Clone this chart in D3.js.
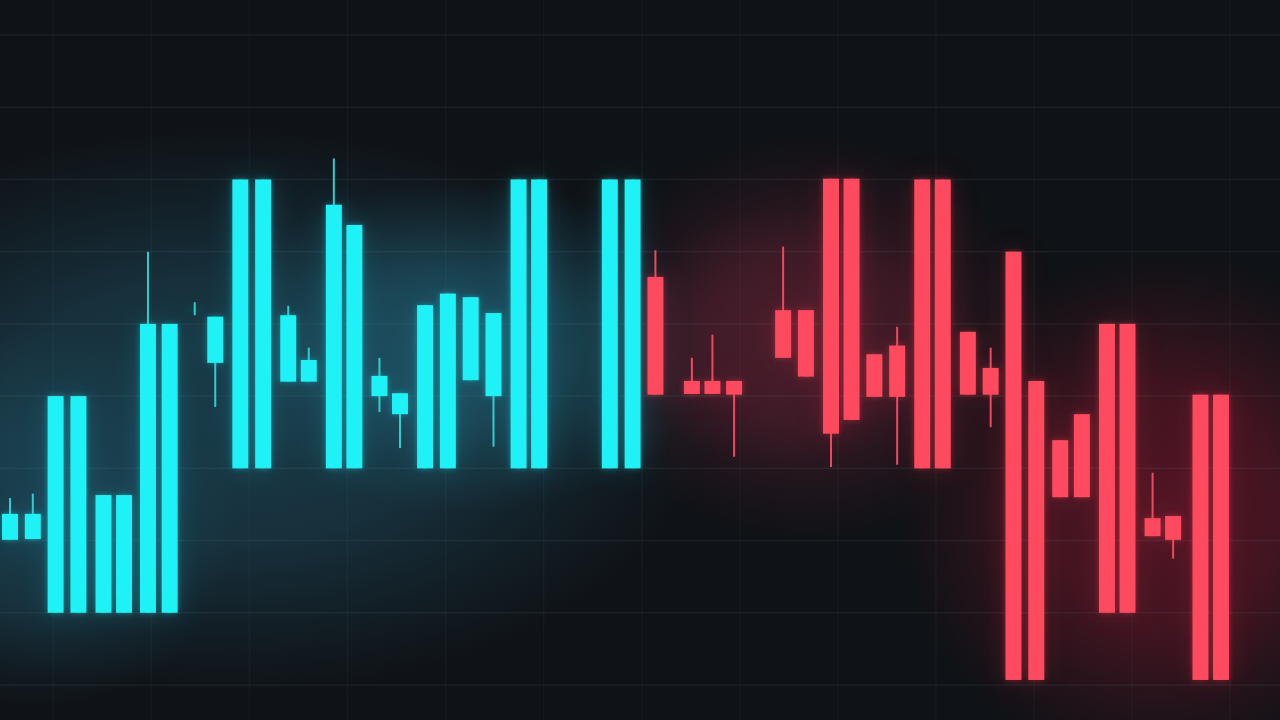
<!DOCTYPE html>
<html>
<head>
<meta charset="utf-8">
<script src="https://cdn.jsdelivr.net/npm/d3@7"></script>
<style>
  html, body { margin: 0; padding: 0; background: #0f1216; }
  svg { display: block; }
</style>
</head>
<body>
<svg id="chart" width="1280" height="720"></svg>
<script>
// ---- data (price units, session index) ----
const cyanSession = [0, 1.0, 2.0, 3.0, 4.1, 5.0, 6.05, 7.0, 8.1, 9.0, 10.1, 11.1, 12.2, 13.1, 14.2, 15.1, 16.2, 17.1, 18.2, 19.2, 20.2, 21.2, 22.3, 23.2, 26.3, 27.3];
const cyanOpen  = [120.1, 120.2, 110, 110, 110, 110, 110, 110, 152, 144.6, 130, 130, 142, 142, 130, 130, 140, 137.5, 130, 130, 142.2, 140, 130, 130, 130, 130];
const cyanClose = [123.7, 123.7, 140, 140, 126.3, 126.3, 150, 150, 152, 151.0, 170, 170, 151.2, 145, 166.5, 163.7, 142.8, 140.4, 152.6, 154.2, 153.7, 151.5, 170, 170, 170, 170];
const cyanHigh  = [125.9, 126.5, 140, 140, 126.3, 126.3, 160, 150, 153, 151.0, 170, 170, 152.5, 146.7, 172.9, 163.7, 145.3, 140.4, 152.6, 154.2, 153.7, 151.5, 170, 170, 170, 170];
const cyanLow   = [120.1, 120.2, 110, 110, 110, 110, 110, 110, 151.2, 138.5, 130, 130, 142, 142, 130, 130, 137.8, 132.8, 130, 130, 142.2, 133, 130, 130, 130, 130];

const redSession = [28.3, 29.9, 30.8, 31.75, 33.9, 34.9, 36.0, 36.9, 37.9, 38.9, 40.0, 40.9, 42.0, 43.0, 44.0, 45.0, 46.05, 47.0, 48.1, 49.0, 50.1, 51.0, 52.2, 53.1];
const redOpen  = [156.5, 142.1, 142.1, 142.1, 151.9, 151.9, 170.1, 170.1, 145.8, 147.0, 170, 170, 148.9, 143.9, 160, 142.1, 133.9, 137.5, 150, 150, 123.1, 123.4, 140.2, 140.2];
const redClose = [140.2, 140.3, 140.3, 140.2, 145.3, 142.7, 134.8, 136.7, 139.9, 139.9, 130, 130, 140.2, 140.2, 100.7, 100.7, 126.0, 126.0, 110, 110, 120.6, 120.1, 100.7, 100.7];
const redHigh  = [160.2, 145.3, 148.5, 142.1, 160.7, 151.9, 170.1, 170.1, 145.8, 149.6, 170, 170, 148.9, 146.7, 160, 142.1, 133.9, 137.5, 150, 150, 129.4, 123.4, 140.2, 140.2];
const redLow   = [140.2, 140.3, 140.3, 131.6, 145.3, 142.7, 130.2, 136.7, 139.9, 130.5, 130, 130, 140.2, 135.7, 100.7, 100.7, 126.0, 126.0, 110, 110, 120.6, 117.5, 100.7, 100.7];

const priceTicks = [100, 110, 120, 130, 140, 150, 160, 170, 180, 190];

// ---- setup ----
const W = 1280, H = 720;
const svg = d3.select("#chart");
const x = d3.scaleLinear().domain([0, 53.1]).range([10, 1221]);
const y = d3.scaleLinear().domain([100, 190]).range([685, 35]);
const bodyW = x(0.7) - x(0);

function build(session, open, close, high, low) {
  return session.map((t, i) => ({ t, o: open[i], c: close[i], h: high[i], l: low[i] }));
}
const cyan = build(cyanSession, cyanOpen, cyanClose, cyanHigh, cyanLow);
const red = build(redSession, redOpen, redClose, redHigh, redLow);

const defs = svg.append("defs");
function blurFilter(id, sd) {
  const f = defs.append("filter").attr("id", id)
    .attr("x", "-60%").attr("y", "-60%").attr("width", "220%").attr("height", "220%");
  f.append("feGaussianBlur").attr("stdDeviation", sd);
}
blurFilter("midGlow", 14);
blurFilter("smallGlow", 3);

let gid = 0;
function radial(color, peak) {
  const id = "rg" + (gid++);
  const g = defs.append("radialGradient").attr("id", id).attr("cx", "50%").attr("cy", "50%").attr("r", "50%");
  g.append("stop").attr("offset", "0%").attr("stop-color", color).attr("stop-opacity", peak);
  g.append("stop").attr("offset", "45%").attr("stop-color", color).attr("stop-opacity", peak * 0.75);
  g.append("stop").attr("offset", "75%").attr("stop-color", color).attr("stop-opacity", peak * 0.3);
  g.append("stop").attr("offset", "100%").attr("stop-color", color).attr("stop-opacity", 0);
  return "url(#" + id + ")";
}

// background
svg.append("rect").attr("width", W).attr("height", H).attr("fill", "#0f1216");

// soft washes (session / price boxes)
const washes = [
  { t0: -12, t1: 31, p0: 98, p1: 178, color: "#1e4c5e", peak: 0.7 },
  { t0: 9, t1: 31, p0: 124, p1: 170, color: "#22657a", peak: 0.6 },
  { t0: -8, t1: 10, p0: 96, p1: 150, color: "#1f5063", peak: 0.55 },
  { t0: 25, t1: 45, p0: 120, p1: 176, color: "#4e1d2c", peak: 0.8 },
  { t0: 27, t1: 41, p0: 130, p1: 166, color: "#53202f", peak: 0.5 },
  { t0: 39, t1: 62, p0: 88, p1: 160, color: "#5a1626", peak: 0.9 }
];
svg.append("g").selectAll("rect").data(washes).join("rect")
  .attr("x", d => x(d.t0)).attr("width", d => x(d.t1) - x(d.t0))
  .attr("y", d => y(d.p1)).attr("height", d => y(d.p0) - y(d.p1))
  .attr("fill", d => radial(d.color, d.peak));

// glow copies of candles
function glowLayer(data, color, filter, opacity, pad) {
  const g = svg.append("g").attr("filter", filter).attr("opacity", opacity);
  g.selectAll("rect").data(data).join("rect")
    .attr("x", d => x(d.t) - bodyW / 2 - pad)
    .attr("y", d => y(Math.max(d.o, d.c)))
    .attr("width", bodyW + 2 * pad)
    .attr("height", d => Math.max(1, Math.abs(y(d.o) - y(d.c))))
    .attr("fill", color);
}
glowLayer(cyan, "#1a8fa6", "url(#midGlow)", 0.3, 0);
glowLayer(red, "#a02236", "url(#midGlow)", 0.3, 0);

// grid
const grid = svg.append("g");
grid.selectAll("line.h").data(priceTicks).join("line")
  .attr("class", "h")
  .attr("x1", 0).attr("x2", W)
  .attr("y1", d => y(d)).attr("y2", d => y(d))
  .attr("stroke", "#7a9aaa").attr("stroke-opacity", 0.1).attr("stroke-width", 1.5);
const vTicks = d3.range(1.9, 56, 4.3);
grid.selectAll("line.v").data(vTicks).join("line")
  .attr("class", "v")
  .attr("y1", 0).attr("y2", H)
  .attr("x1", d => x(d)).attr("x2", d => x(d))
  .attr("stroke", "#7a9aaa").attr("stroke-opacity", 0.06).attr("stroke-width", 1.5);

glowLayer(cyan, "#22e8f0", "url(#smallGlow)", 0.4, 0);
glowLayer(red, "#ff3a50", "url(#smallGlow)", 0.4, 0);

// candles
function drawCandles(data, bodyColor, wickColor) {
  const g = svg.append("g");
  g.selectAll("line").data(data).join("line")
    .attr("x1", d => x(d.t)).attr("x2", d => x(d.t))
    .attr("y1", d => y(d.h)).attr("y2", d => y(d.l))
    .attr("stroke", wickColor).attr("stroke-width", 2);
  g.selectAll("rect").data(data.filter(d => d.o !== d.c)).join("rect")
    .attr("x", d => x(d.t) - bodyW / 2)
    .attr("y", d => y(Math.max(d.o, d.c)))
    .attr("width", bodyW)
    .attr("height", d => Math.abs(y(d.o) - y(d.c)))
    .attr("fill", bodyColor);
}
drawCandles(cyan, "#1ef2f6", "#2ccfd0");
drawCandles(red, "#fd4a5f", "#f0485c");
</script>
</body>
</html>
